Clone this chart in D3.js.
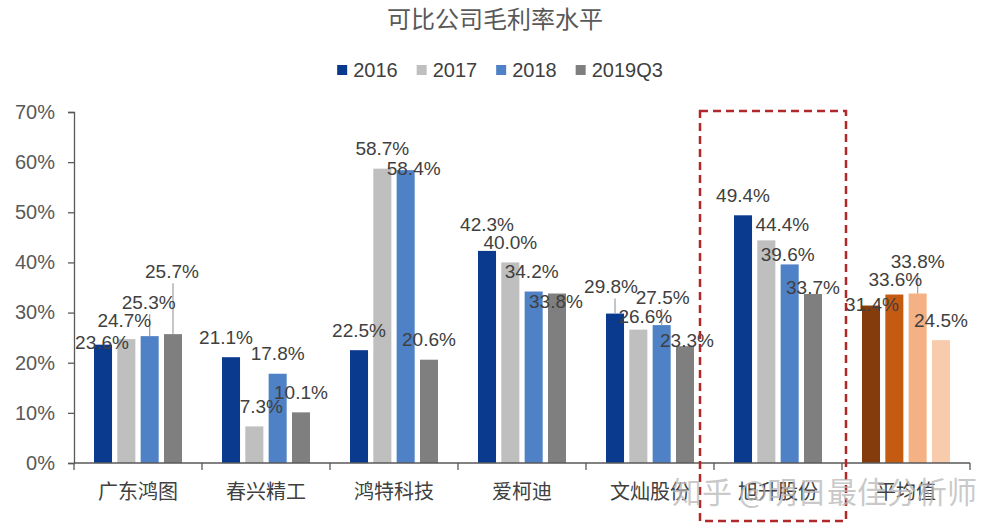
<!DOCTYPE html>
<html>
<head>
<meta charset="utf-8">
<script src="https://cdn.jsdelivr.net/npm/d3@7/dist/d3.min.js"></script>
<style>
  html, body { margin: 0; padding: 0; background: #fff; }
  svg { display: block; font-family: "Liberation Sans", Arial, "Noto Sans CJK SC", sans-serif; }
</style>
</head>
<body>
<svg id="chart" width="989" height="531"></svg>
<script>
// ---------- data ----------
const title = "可比公司毛利率水平";
const categories = ["广东鸿图", "春兴精工", "鸿特科技", "爱柯迪", "文灿股份", "旭升股份", "平均值"];
const seriesNames = ["2016", "2017", "2018", "2019Q3"];
const v2016   = [23.6, 21.1, 22.5, 42.3, 29.8, 49.4, 31.4];
const v2017   = [24.7,  7.3, 58.7, 40.0, 26.6, 44.4, 33.6];
const v2018   = [25.3, 17.8, 58.4, 34.2, 27.5, 39.6, 33.8];
const v2019Q3 = [25.7, 10.1, 20.6, 33.8, 23.3, 33.7, 24.5];
const yTicks = [0, 10, 20, 30, 40, 50, 60, 70];
const watermark = "知乎 @明日最佳分析师";

// ---------- styling ----------
const seriesColors = ["#0a3a8e", "#bfbfbf", "#4f81c6", "#7f7f7f"];
const averageColors = ["#843c0c", "#c55a11", "#f4b183", "#f8cbad"];
// label nudges [dx, dy] relative to default (centered, 20px above bar top), per series per category
const labelNudge = [
  [[-1, 18], [-5, 0], [0, 0], [0, -6], [-4, -7], [0, 0], [1, 19]],
  [[-2, 1],  [7, 0],  [0, 0], [0, 0], [7, 7],   [16, 4], [1, 5]],
  [[-1, -14],[0, 0],  [8, 18],[-2, 0],[1, -8],  [-2, 10],[0, -12]],
  [[-1, -43],[0, 0],  [0, 0], [-1, 28],[2, 14], [0, 13], [0, 0]]
];

const values = [v2016, v2017, v2018, v2019Q3];
const rows = categories.map((c, i) => ({
  cat: c, idx: i,
  vals: seriesNames.map((s, k) => ({ series: s, k, v: values[k][i] }))
}));

const svg = d3.select("#chart");
const axisColor = "#595959";

const x0 = d3.scaleBand().domain(categories).range([74, 970]).padding(0);
const x1 = d3.scaleBand().domain(seriesNames).range([20, 108]).paddingInner(0.227).paddingOuter(0);
const y = d3.scaleLinear().domain([0, 70]).range([463, 112]);

// title
svg.append("text")
  .attr("x", 495).attr("y", 19)
  .attr("text-anchor", "middle").attr("dominant-baseline", "central")
  .attr("font-size", 24).attr("fill", "#595959")
  .text(title);

// legend
const legend = svg.append("g");
let lx = 0;
seriesNames.forEach((s, k) => {
  const g = legend.append("g");
  g.append("rect").attr("x", 0).attr("y", -5).attr("width", 10).attr("height", 10).attr("fill", seriesColors[k]);
  const t = g.append("text").attr("x", 16).attr("y", 0).attr("dominant-baseline", "central")
    .attr("font-size", 20).attr("fill", "#404040").text(s);
  const w = t.node().getComputedTextLength();
  g.attr("transform", `translate(${lx},70)`);
  lx += 16 + w + 19;
});
const legendW = lx - 19;
legend.attr("transform", `translate(${500 - legendW / 2},0)`);

// y axis
const yAxis = d3.axisLeft(y).tickValues(yTicks).tickSize(6).tickPadding(13).tickFormat(d => d + "%");
const yg = svg.append("g").attr("transform", "translate(74,0)").call(yAxis);
yg.select(".domain").attr("stroke", axisColor).attr("stroke-width", 1.3);
yg.selectAll(".tick line").attr("stroke", axisColor).attr("stroke-width", 1.3);
yg.selectAll(".tick text").attr("fill", "#595959").attr("font-size", 20)
  .attr("font-family", "'Liberation Sans', Arial, sans-serif");

// bars
const groups = svg.append("g").selectAll("g").data(rows).join("g")
  .attr("transform", d => `translate(${x0(d.cat)},0)`);

groups.selectAll("rect").data(d => d.vals.map(v => ({ ...v, idx: d.idx }))).join("rect")
  .attr("x", d => x1(d.series))
  .attr("width", x1.bandwidth())
  .attr("y", d => y(d.v))
  .attr("height", d => y(0) - y(d.v))
  .attr("fill", d => d.idx === categories.length - 1 ? averageColors[d.k] : seriesColors[d.k]);

// leader lines and labels
const labelData = [];
rows.forEach(r => r.vals.forEach(v => {
  const [dx, dy] = labelNudge[v.k][r.idx];
  const bx = x0(r.cat) + x1(v.series) + x1.bandwidth() / 2;
  const top = y(v.v);
  labelData.push({ v: v.v, bx, top, lx: bx + dx, ly: top - 20 + dy, leader: dy <= -7 });
}));

svg.append("g").selectAll("line").data(labelData.filter(d => d.leader)).join("line")
  .attr("x1", d => d.bx).attr("x2", d => d.bx)
  .attr("y1", d => d.top).attr("y2", d => d.ly + 12)
  .attr("stroke", "#a0a0a0").attr("stroke-width", 1.2);

svg.append("g").selectAll("text").data(labelData).join("text")
  .attr("x", d => d.lx).attr("y", d => d.ly)
  .attr("text-anchor", "middle").attr("dominant-baseline", "central")
  .attr("font-size", 19).attr("fill", "#404040")
  .text(d => d.v.toFixed(1) + "%");

// x axis
const xg = svg.append("g");
xg.append("line").attr("x1", 74).attr("x2", 970).attr("y1", 463).attr("y2", 463)
  .attr("stroke", axisColor).attr("stroke-width", 1.3);
const boundaries = categories.map(c => x0(c)).concat([x0.range()[1]]);
xg.selectAll("line.tk").data(boundaries).join("line").attr("class", "tk")
  .attr("x1", d => d).attr("x2", d => d).attr("y1", 463).attr("y2", 470)
  .attr("stroke", axisColor).attr("stroke-width", 1.3);
xg.selectAll("text").data(categories).join("text")
  .attr("x", d => x0(d) + x0.bandwidth() / 2).attr("y", 490)
  .attr("text-anchor", "middle").attr("dominant-baseline", "central")
  .attr("font-size", 20).attr("fill", "#404040")
  .attr("font-family", "'Noto Sans CJK SC', sans-serif")
  .text(d => d);

// highlight box around 旭升股份
svg.append("rect")
  .attr("x", x0("旭升股份") - 14).attr("y", 111)
  .attr("width", x0.bandwidth() + 18).attr("height", 410)
  .attr("fill", "none").attr("stroke", "#b0282a").attr("stroke-width", 2.5)
  .attr("stroke-dasharray", "8,5");

// watermark
svg.append("text")
  .attr("x", 672).attr("y", 490).attr("dominant-baseline", "central")
  .attr("font-size", 30).attr("fill", "#b8b8b8").attr("fill-opacity", 0.75)
  .attr("font-family", "'Noto Sans CJK SC', sans-serif")
  .text(watermark);
</script>
</body>
</html>
